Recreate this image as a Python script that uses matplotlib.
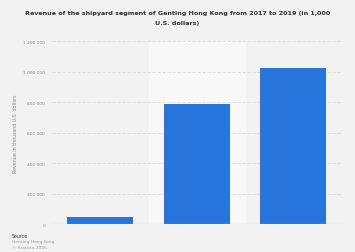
import matplotlib
matplotlib.use("Agg")
import matplotlib.pyplot as plt

years = ["2017", "2018", "2019"]
revenue = [48000, 789000, 1025000]
ytick_vals = [0, 200000, 400000, 600000, 800000, 1000000, 1200000]
ytick_labels = ["0", "200 000", "400 000", "600 000", "800 000", "1 000 000", "1 200 000"]

bg = "#f2f2f2"
fig = plt.figure(figsize=(3.55, 2.53), dpi=100, facecolor=bg)
ax = fig.add_axes([0.147, 0.1095, 0.814, 0.7235], facecolor=bg)

x = list(range(len(years)))
ax.axvspan(0.5, 1.5, color="#f8f8f8", zorder=0)
ax.bar(x, revenue, width=0.685, color="#2876dd", zorder=3)
ax.set_xlim(-0.5, 2.5)
ax.set_ylim(0, 1200000)
ax.set_yticks(ytick_vals)
ax.set_yticklabels(ytick_labels, fontsize=3.2, color="#8a8a8a")
ax.set_xticks([])
ax.tick_params(axis="y", length=0, pad=5)
for v in ytick_vals[1:]:
    ax.axhline(v, color="#dcdcdc", lw=0.6, ls=(0, (4, 2)), zorder=1)
ax.axhline(0, color="#b0b0b0", lw=0.8, zorder=4)
for s in ax.spines.values():
    s.set_visible(False)
ax.set_ylabel("Revenue in thousand U.S. dollars", fontsize=3.4, color="#8a8a8a")
ax.yaxis.set_label_coords(-0.119, 0.5)

fig.text(0.5, 0.956, "Revenue of the shipyard segment of Genting Hong Kong from 2017 to 2019 (in 1,000\nU.S. dollars)",
         ha="center", va="top", fontsize=4.6, fontweight="bold", color="#333333", linespacing=2.1)
fig.text(0.033, 0.067, "Source", fontsize=3.4, color="#333333", va="center")
fig.text(0.033, 0.043, "Genting Hong Kong", fontsize=3.2, color="#999999", va="center")
fig.text(0.033, 0.020, "© Statista 2025", fontsize=3.2, color="#999999", va="center")

fig.savefig("out.png", dpi=100, facecolor=bg)
